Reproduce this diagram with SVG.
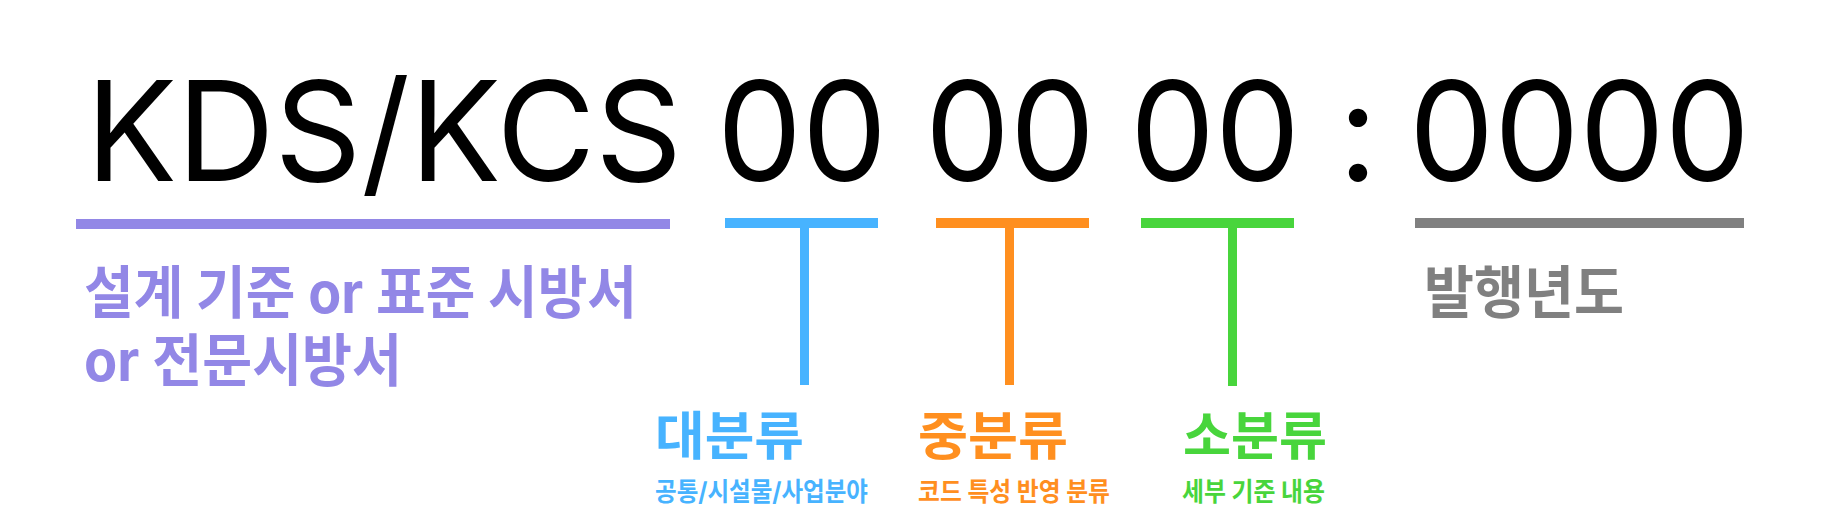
<svg xmlns="http://www.w3.org/2000/svg" width="1835" height="523" viewBox="0 0 1835 523">
  <style>
    .code { font-family: Inter, "Liberation Sans", sans-serif; font-size: 139px; font-weight: 400; fill: #000000; }
    .kr { font-family: Inter, "Noto Sans CJK KR", sans-serif; font-weight: 700; }
    .big { font-size: 57px; }
    .title { font-size: 52px; }
    .sub { font-size: 26px; }
    .purple { fill: #9287E6; }
    .blue { fill: #47B3FF; }
    .orange { fill: #FF8F1F; }
    .green { fill: #48D53C; }
    .gray { fill: #808080; }
  </style>
  <rect x="0" y="0" width="1835" height="523" fill="#ffffff"/>

  <g id="connectors">
    <rect class="purple" x="76" y="219" width="594" height="10"/>
    <rect class="blue" x="725" y="218" width="153" height="10"/>
    <rect class="blue" x="800" y="227" width="9" height="158"/>
    <rect class="orange" x="936" y="218" width="153" height="10"/>
    <rect class="orange" x="1005" y="227" width="9" height="158"/>
    <rect class="green" x="1141" y="218" width="153" height="10"/>
    <rect class="green" x="1228" y="227" width="9" height="159"/>
    <rect class="gray" x="1415" y="218" width="329" height="10"/>
  </g>

  <g id="node-standard">
    <text class="code" x="86" y="181" textLength="596" lengthAdjust="spacingAndGlyphs">KDS/KCS</text>
    <text class="kr big purple" x="84" y="313" textLength="553" lengthAdjust="spacingAndGlyphs">설계 기준 or 표준 시방서</text>
    <text class="kr big purple" x="84" y="381" textLength="318" lengthAdjust="spacingAndGlyphs">or 전문시방서</text>
  </g>

  <g id="node-major">
    <text class="code" x="717" y="181" textLength="170" lengthAdjust="spacingAndGlyphs">00</text>
    <text class="kr title blue" x="655" y="455" textLength="149" lengthAdjust="spacingAndGlyphs">대분류</text>
    <text class="kr sub blue" x="655" y="501" textLength="213" lengthAdjust="spacingAndGlyphs">공통/시설물/사업분야</text>
  </g>

  <g id="node-middle">
    <text class="code" x="925" y="181" textLength="170" lengthAdjust="spacingAndGlyphs">00</text>
    <text class="kr title orange" x="918" y="455" textLength="150" lengthAdjust="spacingAndGlyphs">중분류</text>
    <text class="kr sub orange" x="918" y="501" textLength="192" lengthAdjust="spacingAndGlyphs">코드 특성 반영 분류</text>
  </g>

  <g id="node-minor">
    <text class="code" x="1130" y="181" textLength="170" lengthAdjust="spacingAndGlyphs">00</text>
    <text class="kr title green" x="1183" y="455" textLength="144" lengthAdjust="spacingAndGlyphs">소분류</text>
    <text class="kr sub green" x="1182" y="501" textLength="143" lengthAdjust="spacingAndGlyphs">세부 기준 내용</text>
  </g>

  <g id="node-colon">
    <text class="code" x="1338" y="181">:</text>
  </g>

  <g id="node-year">
    <text class="code" x="1409" y="181" textLength="341" lengthAdjust="spacingAndGlyphs">0000</text>
    <text class="kr big gray" x="1424" y="313" textLength="200" lengthAdjust="spacingAndGlyphs">발행년도</text>
  </g>
</svg>
